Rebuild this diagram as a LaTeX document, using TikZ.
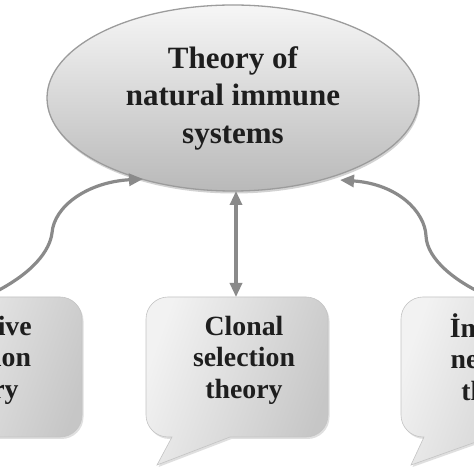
\documentclass[tikz,border=0pt]{standalone}
\usepackage{fontspec}
\setmainfont{Liberation Serif}
\usetikzlibrary{arrows.meta,shapes.geometric,shadows}
\definecolor{arrowgray}{HTML}{8A8A8A}
\definecolor{edgegray}{HTML}{9C9C9C}
\definecolor{boxedge}{HTML}{C4C4C4}
\definecolor{txt}{HTML}{1E1E1E}
\definecolor{elltop}{HTML}{F6F6F6}
\definecolor{ellbot}{HTML}{B9B9B9}
\definecolor{boxleft}{HTML}{F2F2F2}
\definecolor{boxright}{HTML}{C6C6C6}
\begin{document}
\begin{tikzpicture}[x=1pt,y=1pt,
  conn/.style={draw=arrowgray, line width=3.2pt, -{Triangle[length=14pt,width=12pt]}},
  dconn/.style={draw=arrowgray, line width=3.2pt, {Triangle[length=14pt,width=12pt]}-{Triangle[length=14pt,width=12pt]}},
  ellnode/.style={ellipse, minimum width=372pt, minimum height=186pt, inner sep=0pt,
    draw=edgegray, line width=1.3pt, top color=elltop, bottom color=ellbot,
    drop shadow={opacity=0.35, shadow xshift=1pt, shadow yshift=-2.5pt},
    font=\fontsize{31}{37.5}\selectfont\bfseries, align=center, text=txt},
  calloutbox/.style={left color=boxleft, right color=boxright, shading angle=70,
    draw=boxedge, line width=0.6pt,
    drop shadow={opacity=0.25, shadow xshift=1.5pt, shadow yshift=-2pt}},
  boxtext/.style={font=\fontsize{27.8}{31.5}\selectfont\bfseries, align=center, text=txt, inner sep=0pt}
]
\useasboundingbox (0,0) rectangle (474,474);
\fill[white] (0,0) rectangle (474,474);
\begin{scope}
\clip (0,0) rectangle (474,474);
% left callout
\path[calloutbox] (-74,37) -- (-89,9) -- (-16,37) -- (60,37) arc[start angle=-90,end angle=0,radius=22]
  -- (82,155) arc[start angle=0,end angle=90,radius=22] -- (-78,177) arc[start angle=90,end angle=180,radius=22]
  -- (-100,59) arc[start angle=180,end angle=270,radius=22] -- cycle;
\node[boxtext] (ltext) at (-20,114) {Negative\\selection\\theory};
% centre callout
\path[calloutbox] (172,37) -- (157,9) -- (230,37) -- (306,37) arc[start angle=-90,end angle=0,radius=22]
  -- (328,155) arc[start angle=0,end angle=90,radius=22] -- (168,177) arc[start angle=90,end angle=180,radius=22]
  -- (146,59) arc[start angle=180,end angle=270,radius=22] -- cycle;
\node[boxtext] (ctext) at (244,114) {Clonal\\selection\\theory};
% right callout
\path[calloutbox] (424,37) -- (411,9) -- (490,37) -- (561,37) arc[start angle=-90,end angle=0,radius=22]
  -- (583,155) arc[start angle=0,end angle=90,radius=22] -- (423,177) arc[start angle=90,end angle=180,radius=22]
  -- (401,59) arc[start angle=180,end angle=270,radius=22] -- cycle;
\node[boxtext] (rtext) at (500,114) {İmmune\\network\\theory};
% ellipse
\node[ellnode] (e) at (233,376) {Theory of\\natural immune\\systems};
% connector anchor points
\coordinate (ltop) at (-15,177);
\coordinate (ctop) at (236,177);
\coordinate (rtop) at (490,177);
\coordinate (eL) at (143,295);
\coordinate (eC) at (236,283);
\coordinate (eR) at (340,294);
\draw[conn] (ltop) .. controls (35,200) and (50,225) .. (52,241) .. controls (54,268) and (88,292) .. (eL);
\draw[dconn] (eC) -- (ctop);
\draw[conn] (rtop) .. controls (455,192) and (427,215) .. (426,238) .. controls (425,262) and (398,290) .. (eR);
\end{scope}
\end{tikzpicture}
\end{document}
